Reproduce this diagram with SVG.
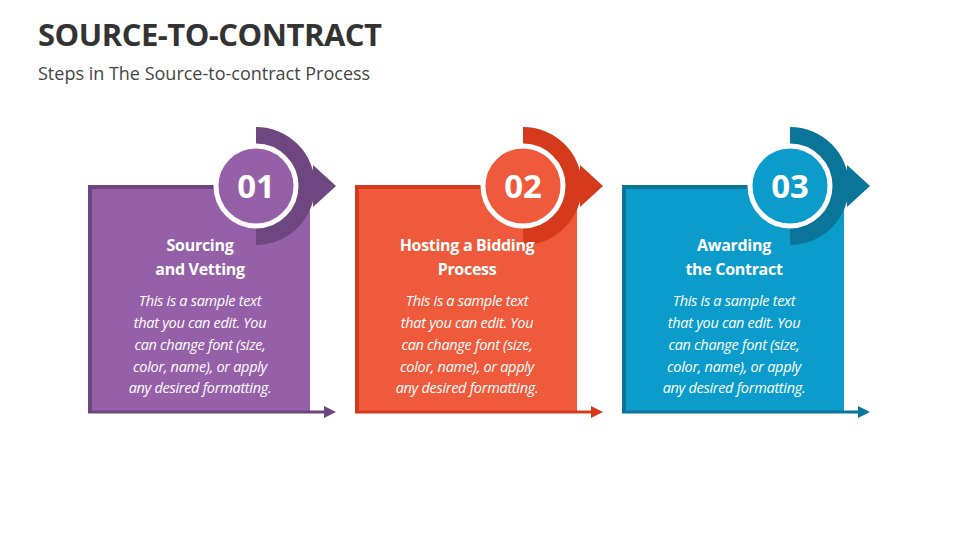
<svg xmlns="http://www.w3.org/2000/svg" width="960" height="540" viewBox="0 0 960 540">
<style>
.t{font-family:"Open Sans","Liberation Sans",sans-serif;fill:#fff;text-anchor:middle}
.h{font-size:16px;font-weight:bold;letter-spacing:-0.3px}
.b{font-size:14.5px;font-style:italic;letter-spacing:-0.3px}
.n{font-size:33px;font-weight:bold}
</style>
<rect width="960" height="540" fill="#fff"/>
<text x="38" y="46" font-family="Open Sans, Liberation Sans, sans-serif" font-size="31" font-weight="bold" fill="#333" letter-spacing="-0.5">SOURCE-TO-CONTRACT</text>
<text x="38" y="80" font-family="Open Sans, Liberation Sans, sans-serif" font-size="18" fill="#444">Steps in The Source-to-contract Process</text>
<defs>
<g id="card">
<rect x="0" y="0" width="222" height="228" class="fill"/>
</g>
</defs>
<g id="connectors"></g>
<g id="step1" transform="translate(88,0)">
<rect x="0" y="185" width="222" height="228" fill="#9660A8"/>
<path d="M2,412 V187 H130" fill="none" stroke="#6E4680" stroke-width="4"/>
<path d="M0,412 H240" stroke="#6E4680" stroke-width="3"/>
<path d="M248,412 L236,406 L236,418 Z" fill="#6E4680"/>
<path d="M168,127 A59,59 0 0 1 168,245 Z" fill="#6E4680"/>
<path d="M225,165 L248,186 L225,207 Z" fill="#6E4680"/>
<circle cx="168" cy="186" r="40" fill="#9660A8" stroke="#fff" stroke-width="5"/>
<text class="t n" x="168" y="198">01</text>
<text class="t h" x="112" y="251">Sourcing</text>
<text class="t h" x="112" y="275">and Vetting</text>
<text class="t b" x="112" y="306">This is a sample text</text>
<text class="t b" x="112" y="328">that you can edit. You</text>
<text class="t b" x="112" y="350">can change font (size,</text>
<text class="t b" x="112" y="372">color, name), or apply</text>
<text class="t b" x="112" y="393">any desired formatting.</text>
</g>
<g id="step2" transform="translate(355,0)">
<rect x="0" y="185" width="222" height="228" fill="#F05A3C"/>
<path d="M2,412 V187 H130" fill="none" stroke="#D63A1C" stroke-width="4"/>
<path d="M0,412 H240" stroke="#D63A1C" stroke-width="3"/>
<path d="M248,412 L236,406 L236,418 Z" fill="#D63A1C"/>
<path d="M168,127 A59,59 0 0 1 168,245 Z" fill="#D63A1C"/>
<path d="M225,165 L248,186 L225,207 Z" fill="#D63A1C"/>
<circle cx="168" cy="186" r="40" fill="#F05A3C" stroke="#fff" stroke-width="5"/>
<text class="t n" x="168" y="198">02</text>
<text class="t h" x="112" y="251">Hosting a Bidding</text>
<text class="t h" x="112" y="275">Process</text>
<text class="t b" x="112" y="306">This is a sample text</text>
<text class="t b" x="112" y="328">that you can edit. You</text>
<text class="t b" x="112" y="350">can change font (size,</text>
<text class="t b" x="112" y="372">color, name), or apply</text>
<text class="t b" x="112" y="393">any desired formatting.</text>
</g>
<g id="step3" transform="translate(622,0)">
<rect x="0" y="185" width="222" height="228" fill="#0C9CCB"/>
<path d="M2,412 V187 H130" fill="none" stroke="#0A7499" stroke-width="4"/>
<path d="M0,412 H240" stroke="#0A7499" stroke-width="3"/>
<path d="M248,412 L236,406 L236,418 Z" fill="#0A7499"/>
<path d="M168,127 A59,59 0 0 1 168,245 Z" fill="#0A7499"/>
<path d="M225,165 L248,186 L225,207 Z" fill="#0A7499"/>
<circle cx="168" cy="186" r="40" fill="#0C9CCB" stroke="#fff" stroke-width="5"/>
<text class="t n" x="168" y="198">03</text>
<text class="t h" x="112" y="251">Awarding</text>
<text class="t h" x="112" y="275">the Contract</text>
<text class="t b" x="112" y="306">This is a sample text</text>
<text class="t b" x="112" y="328">that you can edit. You</text>
<text class="t b" x="112" y="350">can change font (size,</text>
<text class="t b" x="112" y="372">color, name), or apply</text>
<text class="t b" x="112" y="393">any desired formatting.</text>
</g>
</svg>
